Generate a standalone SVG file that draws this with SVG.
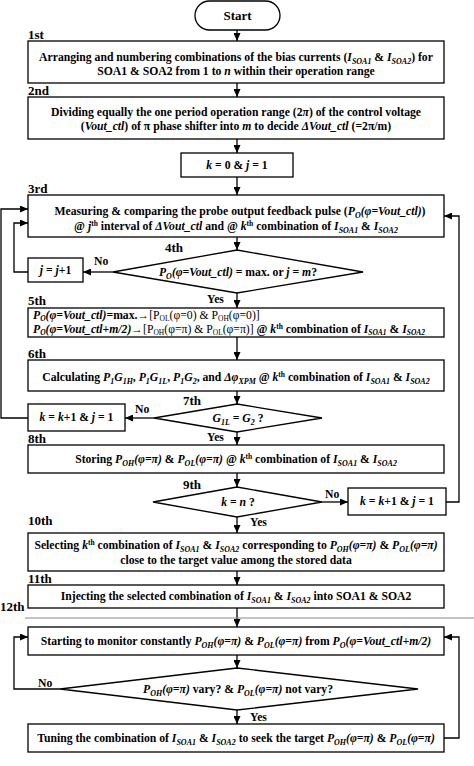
<svg xmlns="http://www.w3.org/2000/svg" width="474" height="766" viewBox="0 0 474 766">
<defs>
<marker id="ah" markerUnits="userSpaceOnUse" markerWidth="8" markerHeight="7" refX="8" refY="3.5" orient="auto">
<path d="M0,0 L8,3.5 L0,7 z" fill="#000"/>
</marker>
</defs>
<style>
.t{font-family:"Liberation Serif","Times New Roman",serif;font-weight:bold;font-size:11.7px;fill:#000}
.c{text-anchor:middle}
.i{font-style:italic}
.s{font-size:8px;baseline-shift:-2.5px}
.s5{font-size:7.5px;baseline-shift:-1.5px}
.p{font-size:7.5px;baseline-shift:4px}
.n{font-weight:normal}
.lb{font-family:"Liberation Serif","Times New Roman",serif;font-weight:bold;font-size:13px;fill:#000}
.bx{fill:#fff;stroke:#000;stroke-width:1.3}
.ln{fill:none;stroke:#000;stroke-width:1.3}
.ar{fill:none;stroke:#000;stroke-width:1.3;marker-end:url(#ah)}
</style>
<rect width="474" height="766" fill="#fff"/>

<g id="connectors">
<line class="ar" x1="237" y1="30" x2="237" y2="41"/>
<line class="ar" x1="237" y1="83" x2="237" y2="97"/>
<line class="ar" x1="237" y1="139" x2="237" y2="153"/>
<line class="ar" x1="237" y1="177" x2="237" y2="195"/>
<line class="ar" x1="237" y1="237" x2="237" y2="250"/>
<line class="ar" x1="113" y1="272" x2="83" y2="272"/>
<polyline class="ar" points="28,272 14,272 14,223 28,223"/>
<polyline class="ar" points="28,418 1,418 1,209 28,209"/>
<line class="ar" x1="237" y1="293" x2="237" y2="308"/>
<line class="ar" x1="237" y1="337" x2="237" y2="360"/>
<line class="ar" x1="237" y1="391" x2="237" y2="404"/>
<line class="ar" x1="154" y1="418" x2="125" y2="418"/>
<line class="ar" x1="237" y1="432" x2="237" y2="445"/>
<line class="ar" x1="237" y1="473" x2="237" y2="487"/>
<line class="ar" x1="322" y1="502" x2="348" y2="502"/>
<polyline class="ar" points="446,502 459,502 459,216 444,216"/>
<line class="ar" x1="237" y1="517" x2="237" y2="533"/>
<line class="ar" x1="237" y1="571" x2="237" y2="585"/>
<line class="ar" x1="237" y1="608" x2="237" y2="627"/>
<line x1="25" y1="618" x2="474" y2="618" stroke="#888" stroke-width="1"/>
<line class="ar" x1="237" y1="655" x2="237" y2="668"/>
<polyline class="ar" points="60,689 14,689 14,637 28,637"/>
<line class="ar" x1="237" y1="710" x2="237" y2="724"/>
<polyline class="ar" points="444,738 459,738 459,637 444,637"/>
</g>

<g id="start">
<rect class="bx" x="195" y="1" width="85" height="29" rx="14.5"/>
<text class="lb c" x="237.5" y="20">Start</text>
</g>

<g id="step1">
<text class="lb" x="28" y="39">1st</text>
<rect class="bx" x="28" y="41" width="416" height="42"/>
<text class="t c" x="236" y="61">Arranging and numbering combinations of the bias currents  (<tspan class="i">I<tspan class="s">SOA1</tspan></tspan> &amp; <tspan class="i">I<tspan class="s">SOA2</tspan></tspan>) for</text>
<text class="t c" x="236" y="75">SOA1 &amp; SOA2 from 1 to <tspan class="i">n</tspan> within their operation range</text>
</g>

<g id="step2">
<text class="lb" x="28" y="95">2nd</text>
<rect class="bx" x="28" y="97" width="416" height="42"/>
<text class="t c" x="236" y="116">Dividing equally the one period operation range  (2<tspan class="i">π</tspan>) of the control voltage</text>
<text class="t c" x="236" y="130">(<tspan class="i">Vout_ctl</tspan>) of π phase shifter into <tspan class="i">m</tspan> to decide <tspan class="i">ΔVout_ctl</tspan> (=2π/m)</text>
</g>

<g id="init">
<rect class="bx" x="181" y="153" width="112" height="24"/>
<text class="t c" x="237" y="169"><tspan class="i">k</tspan> = 0 &amp; <tspan class="i">j</tspan> = 1</text>
</g>

<g id="step3">
<text class="lb" x="28" y="193">3rd</text>
<rect class="bx" x="28" y="195" width="416" height="42"/>
<text class="t c" x="240" y="215">Measuring &amp; comparing the probe output feedback pulse (<tspan class="i">P<tspan class="s">O</tspan>(φ=Vout_ctl)</tspan>)</text>
<text class="t c" x="236" y="230">@ <tspan class="i">j</tspan><tspan class="p">th</tspan> interval of <tspan class="i">ΔVout_ctl</tspan> and @ <tspan class="i">k</tspan><tspan class="p">th</tspan> combination of <tspan class="i">I<tspan class="s">SOA1</tspan></tspan> &amp; <tspan class="i">I<tspan class="s">SOA2</tspan></tspan></text>
</g>

<g id="step4">
<text class="lb" x="165" y="252">4th</text>
<polygon class="bx" points="237,250 363,272 237,293 113,272"/>
<text class="t c" x="238" y="276"><tspan class="i">P<tspan class="s">O</tspan>(φ=Vout_ctl)</tspan> = max. or <tspan class="i">j</tspan> = <tspan class="i">m</tspan>?</text>
<text class="t" x="94" y="265">No</text>
<text class="t" x="207" y="303">Yes</text>
</g>

<g id="jinc">
<rect class="bx" x="28" y="258" width="55" height="24"/>
<text class="t c" x="55.5" y="274"><tspan class="i">j</tspan> = <tspan class="i">j</tspan>+1</text>
</g>

<g id="step5">
<text class="lb" x="28" y="305">5th</text>
<rect class="bx" x="28" y="308" width="416" height="29"/>
<text class="t" x="33" y="319"><tspan class="i">P<tspan class="s5">O</tspan>(φ=Vout_ctl)</tspan>=max.→<tspan class="n">[P<tspan class="s5">OL</tspan>(φ=0) &amp; P<tspan class="s5">OH</tspan>(φ=0)]</tspan></text>
<text class="t" x="33" y="332.5"><tspan class="i">P<tspan class="s5">O</tspan>(φ=Vout_ctl+m/2)</tspan>→<tspan class="n">[P<tspan class="s5">OH</tspan>(φ=π) &amp; P<tspan class="s5">OL</tspan>(φ=π)]</tspan> @ <tspan class="i">k</tspan><tspan class="p">th</tspan> combination of <tspan class="i">I<tspan class="s5">SOA1</tspan></tspan> &amp; <tspan class="i">I<tspan class="s5">SOA2</tspan></tspan></text>
</g>

<g id="step6">
<text class="lb" x="28" y="358">6th</text>
<rect class="bx" x="28" y="360" width="416" height="31"/>
<text class="t c" x="236" y="381">Calculating <tspan class="i">P<tspan class="s">1</tspan>G<tspan class="s">1H</tspan></tspan>, <tspan class="i">P<tspan class="s">1</tspan>G<tspan class="s">1L</tspan></tspan>, <tspan class="i">P<tspan class="s">1</tspan>G<tspan class="s">2</tspan></tspan>, and <tspan class="i">Δφ<tspan class="s">XPM</tspan></tspan> @ <tspan class="i">k</tspan><tspan class="p">th</tspan> combination of <tspan class="i">I<tspan class="s">SOA1</tspan></tspan> &amp; <tspan class="i">I<tspan class="s">SOA2</tspan></tspan></text>
</g>

<g id="step7">
<text class="lb" x="183" y="405">7th</text>
<polygon class="bx" points="237,404 322,418 237,432 154,418"/>
<text class="t c" x="238" y="422"><tspan class="i">G<tspan class="s">1L</tspan></tspan> = <tspan class="i">G<tspan class="s">2</tspan></tspan> ?</text>
<text class="t" x="135" y="413">No</text>
<text class="t" x="207" y="441">Yes</text>
</g>

<g id="kinc1">
<rect class="bx" x="28" y="404" width="97" height="27"/>
<text class="t c" x="76.5" y="421"><tspan class="i">k</tspan> = <tspan class="i">k</tspan>+1 &amp; <tspan class="i">j</tspan> = 1</text>
</g>

<g id="step8">
<text class="lb" x="28" y="443">8th</text>
<rect class="bx" x="28" y="445" width="416" height="28"/>
<text class="t c" x="236" y="463">Storing <tspan class="i">P<tspan class="s">OH</tspan>(φ=π)</tspan> &amp; <tspan class="i">P<tspan class="s">OL</tspan>(φ=π)</tspan> @ <tspan class="i">k</tspan><tspan class="p">th</tspan> combination of <tspan class="i">I<tspan class="s">SOA1</tspan></tspan> &amp; <tspan class="i">I<tspan class="s">SOA2</tspan></tspan></text>
</g>

<g id="step9">
<text class="lb" x="183" y="489">9th</text>
<polygon class="bx" points="237,487 322,502 237,517 153,502"/>
<text class="t c" x="238" y="506"><tspan class="i">k</tspan> = <tspan class="i">n</tspan> ?</text>
<text class="t" x="325" y="498">No</text>
<text class="t" x="250" y="526">Yes</text>
</g>

<g id="kinc2">
<rect class="bx" x="348" y="488" width="98" height="27"/>
<text class="t c" x="397" y="505"><tspan class="i">k</tspan> = <tspan class="i">k</tspan>+1 &amp; <tspan class="i">j</tspan> = 1</text>
</g>

<g id="step10">
<text class="lb" x="28" y="525">10th</text>
<rect class="bx" x="28" y="533" width="416" height="38"/>
<text class="t c" x="236" y="549">Selecting <tspan class="i">k</tspan><tspan class="p">th</tspan> combination of <tspan class="i">I<tspan class="s">SOA1</tspan></tspan> &amp; <tspan class="i">I<tspan class="s">SOA2</tspan></tspan> corresponding to <tspan class="i">P<tspan class="s">OH</tspan>(φ=π)</tspan> &amp; <tspan class="i">P<tspan class="s">OL</tspan>(φ=π)</tspan></text>
<text class="t c" x="236" y="564">close to the target value among the stored data</text>
</g>

<g id="step11">
<text class="lb" x="28" y="583">11th</text>
<rect class="bx" x="28" y="585" width="416" height="23"/>
<text class="t c" x="236" y="600">Injecting the selected combination of  <tspan class="i">I<tspan class="s">SOA1</tspan></tspan> &amp; <tspan class="i">I<tspan class="s">SOA2</tspan></tspan> into SOA1 &amp; SOA2</text>
</g>

<g id="step12">
<text class="lb" x="0" y="611">12th</text>
<rect class="bx" x="28" y="627" width="416" height="28"/>
<text class="t c" x="236" y="645">Starting to monitor constantly  <tspan class="i">P<tspan class="s">OH</tspan>(φ=π)</tspan> &amp; <tspan class="i">P<tspan class="s">OL</tspan>(φ=π)</tspan> from <tspan class="i">P<tspan class="s">O</tspan>(φ=Vout_ctl+m/2)</tspan></text>
</g>

<g id="check">
<polygon class="bx" points="237,668 418,689 237,710 60,689"/>
<text class="t c" x="238" y="693"><tspan class="i">P<tspan class="s">OH</tspan>(φ=π)</tspan> vary? &amp; <tspan class="i">P<tspan class="s">OL</tspan>(φ=π)</tspan> not vary?</text>
<text class="t" x="38" y="687">No</text>
<text class="t" x="250" y="721">Yes</text>
</g>

<g id="tune">
<rect class="bx" x="28" y="724" width="416" height="28"/>
<text class="t c" x="236" y="742">Tuning the combination of <tspan class="i">I<tspan class="s">SOA1</tspan></tspan> &amp; <tspan class="i">I<tspan class="s">SOA2</tspan></tspan> to seek the target <tspan class="i">P<tspan class="s">OH</tspan>(φ=π)</tspan> &amp; <tspan class="i">P<tspan class="s">OL</tspan>(φ=π)</tspan></text>
</g>
</svg>
